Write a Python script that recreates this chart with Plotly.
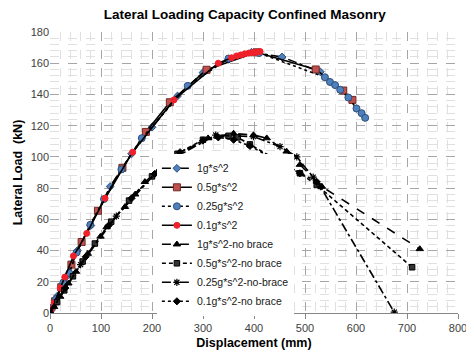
import plotly.graph_objects as go

# ---- braced series ----
b1_x = [0, 6, 15, 31, 54, 80, 118, 160, 200, 250, 300, 350, 395, 455, 530]
b1_y = [0, 4.5, 11, 23, 40, 56, 81, 102, 119, 139, 154, 162.5, 167, 164, 154.5]

b05_x = [0, 10, 22, 42, 62, 94, 142, 188, 235, 307, 405, 521, 575, 593]
b05_y = [0, 7.5, 16.5, 31, 45.5, 65.5, 93, 116, 135, 155.8, 167, 156, 142.5, 136.5]

b025_x = [0, 4, 12, 26, 38, 52, 79, 106, 140, 180, 270, 350, 410, 539, 549, 559, 569, 585, 601, 611, 618]
b025_y = [0, 3, 9, 19.5, 25.5, 38.7, 56.5, 73, 92, 112, 145.5, 163, 166.5, 151, 148, 146, 143, 138, 131, 128, 125]

b01_x = [0, 3, 8, 20, 29, 46, 72, 108, 162, 243, 330, 356, 366, 374, 382, 390, 398, 405, 412]
b01_y = [0, 2.5, 6.5, 16, 23, 36.5, 51, 73.5, 103, 136.5, 160, 163.5, 164.7, 165.3, 166, 166.5, 166.8, 167, 167.5]

# ---- no-brace series ----
n1_x = [0, 8, 20, 36, 51, 74, 99, 111, 147, 167, 186, 212, 240, 248, 310, 360, 399, 425, 464, 490, 533, 725]
n1_y = [0, 4, 10.5, 19, 26.5, 38, 49, 55, 68, 76, 84, 91, 99, 101, 112, 115, 114, 112, 103.5, 95, 81, 41]

n05_x = [0, 14, 28, 45, 64, 88, 120, 155, 200, 250, 300, 350, 368, 392, 444, 490, 523, 710]
n05_y = [0, 7, 14.5, 23.5, 33, 44.5, 58.5, 72, 87.5, 102, 111, 113.5, 112.5, 108, 98.5, 89.5, 82, 29.3]

n025_x = [0, 60, 130, 225, 325, 399, 451, 484, 516, 530, 675]
n025_y = [0, 31, 62, 96, 114, 113, 106.6, 100, 87, 81, 0.5]

n01_x = [0, 30, 70, 115, 160, 205, 255, 300, 330, 360, 392, 444, 490, 523]
n01_y = [0, 16, 36, 56, 73.5, 89, 103, 110.5, 112.5, 111, 107, 98, 89.5, 84]

names = ["1g*s^2", "0.5g*s^2", "0.25g*s^2", "0.1g*s^2",
         "1g*s^2-no brace", "0.5g*s^2-no brace", "0.25g*s^2-no-brace", "0.1g*s^2-no brace"]

x_ticks = [0, 100, 200, 300, 400, 500, 600, 700, 800]
y_ticks = [0, 20, 40, 60, 80, 100, 120, 140, 160, 180]

BLUE = "#4F81BD"
BLUE_D = "#2E4E7A"
RED_SQ = "#C0504D"
RED_SQ_D = "#6E2A28"
RED = "#F0202A"

fig = go.Figure()

def add(x, y, name, dash, symbol, size, color, lcolor, lw=1.6, mlw=1):
    fig.add_trace(go.Scatter(
        x=x, y=y, name=name, mode="lines+markers",
        line=dict(color="black", width=lw, dash=dash),
        marker=dict(symbol=symbol, size=size, color=color,
                    line=dict(color=lcolor, width=mlw)),
    ))

add(b1_x, b1_y, names[0], "dashdot", "diamond", 6, BLUE, BLUE_D)
add(b05_x, b05_y, names[1], "solid", "square", 7, RED_SQ, RED_SQ_D)
add(b025_x, b025_y, names[2], "dot", "circle", 7, BLUE, BLUE_D)
add(b01_x, b01_y, names[3], "solid", "circle", 6, RED, RED)
add(n1_x, n1_y, names[4], "dash", "triangle-up", 6.5, "black", "black")
add(n05_x, n05_y, names[5], "4px,3px", "square", 5.5, "#333333", "black")
add(n025_x, n025_y, names[6], "dashdot", "asterisk-open", 6, "black", "black", mlw=1.2)
add(n01_x, n01_y, names[7], "dot", "diamond", 5.5, "black", "black")

# page has an 8px body margin, so the figure is drawn 8px smaller
fig.update_layout(
    width=466, height=350,
    margin=dict(l=42, r=16, t=24, b=45, autoexpand=False),
    paper_bgcolor="white", plot_bgcolor="white",
    font=dict(family="Liberation Sans, Arial, sans-serif", size=11, color="#404040"),
    title=dict(text="<b>Lateral Loading Capacity Confined Masonry</b>",
               x=0.508, xanchor="center", y=0.982, yanchor="middle",
               font=dict(size=13.5, color="black")),
    showlegend=True,
    legend=dict(x=0.262, y=-0.01, xanchor="left", yanchor="bottom",
                bgcolor="white", borderwidth=0,
                font=dict(size=10.5, color="#202020"),
                itemwidth=30, tracegroupgap=0),
)

fig.update_xaxes(
    range=[0, 800], tickvals=x_ticks, ticktext=[str(v) for v in x_ticks],
    showgrid=True, gridcolor="#A6A6A6", griddash="dash", gridwidth=1,
    minor=dict(dtick=20, showgrid=True, gridcolor="#E0E0E0", gridwidth=1, ticks=""),
    showline=True, linecolor="#868686", linewidth=1,
    ticks="outside", ticklen=5, tickcolor="#868686",
    zeroline=False, automargin=False,
    title=dict(text="<b>Displacement (mm)</b>", font=dict(size=12.5, color="black"), standoff=5),
)
fig.update_yaxes(
    range=[0, 180], tickvals=y_ticks, ticktext=[str(v) for v in y_ticks],
    showgrid=True, gridcolor="#A6A6A6", griddash="dash", gridwidth=1,
    minor=dict(dtick=4, showgrid=True, gridcolor="#E0E0E0", gridwidth=1, ticks=""),
    showline=False,
    ticks="", zeroline=False, automargin=False,
    title=dict(text="<b>Lateral Load  (kN)</b>", font=dict(size=12.5, color="black"), standoff=5),
)

fig.write_html("out.html")
